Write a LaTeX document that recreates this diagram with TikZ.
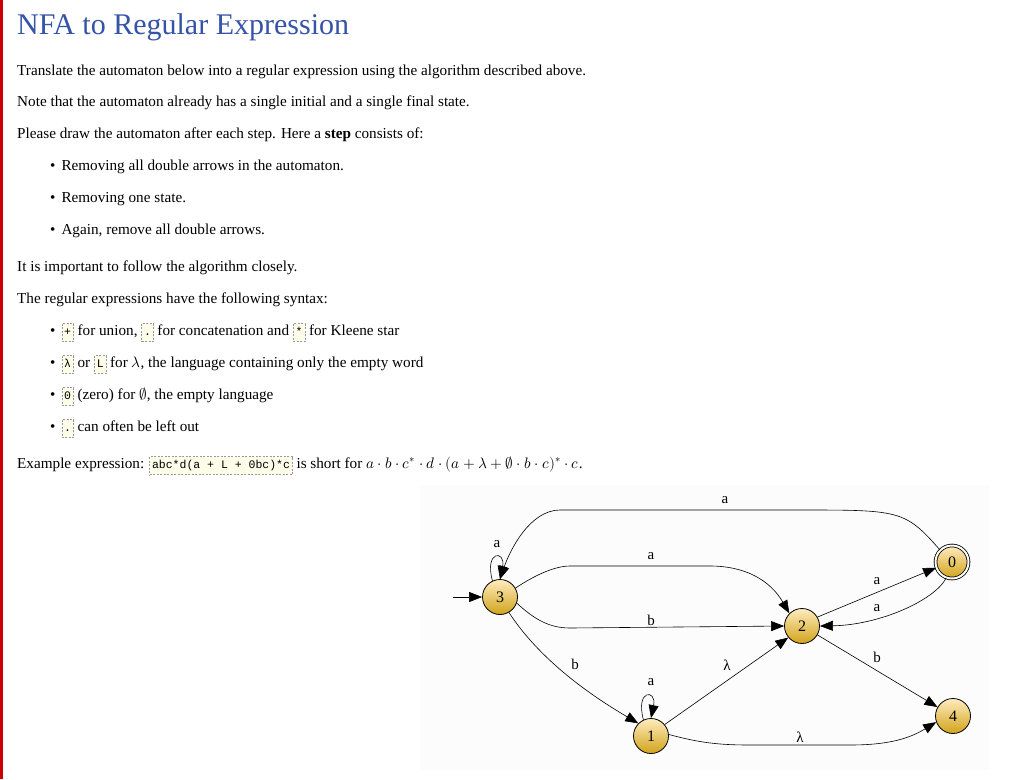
\documentclass[tikz,border=0pt]{standalone}
\usepackage{fontspec}
\setmainfont{Liberation Serif}
\setmonofont{Liberation Mono}
\usepackage{unicode-math}
\setmathfont{Latin Modern Math}
\usetikzlibrary{arrows.meta}
\definecolor{titleblue}{HTML}{3554A8}
\definecolor{codebg}{HTML}{FDFDEA}
\newcommand{\cb}[1]{\tikz[baseline=(cbx.base)]\node[draw=gray!80,dash pattern=on 2pt off 1.5pt,fill=codebg,inner xsep=2.5pt,inner ysep=3pt,font=\ttfamily\fontsize{11.5}{12}\selectfont](cbx){\strut #1};}
\begin{document}
\begin{tikzpicture}[x=1pt,y=-1pt,
  txt/.style={anchor=base west,inner sep=0,font=\fontsize{15.2}{17}\selectfont},
  st/.style={circle,draw,thick,minimum size=35pt,inner sep=0,top color=yellow!40!orange!25!white,bottom color=orange!50!yellow!80!black!90,font=\fontsize{16}{17}\selectfont},
  ed/.style={-{Triangle[length=13pt,width=10pt]},semithick},
  lb/.style={font=\fontsize{15}{16}\selectfont,inner sep=1pt}]
\useasboundingbox (0,0) rectangle (1024,779);
\fill[white] (0,0) rectangle (1024,779);
\fill[red!80!black] (0,0) rectangle (3,779);
\fill[gray!2] (420,485) rectangle (990,770);
\node[txt,font=\fontsize{30}{32}\selectfont,text=titleblue] (title) at (17,34) {NFA to Regular Expression};
\node[txt] (l1) at (17,75) {Translate the automaton below into a regular expression using the algorithm described above.};
\node[txt] (l2) at (17,106) {Note that the automaton already has a single initial and a single final state.};
\node[txt] (l3) at (17,138) {Please draw the automaton after each step. Here a \textbf{step} consists of:};
\node[txt] (b1) at (50,170) {\textbullet\hspace{6pt}Removing all double arrows in the automaton.};
\node[txt] (b2) at (50,202) {\textbullet\hspace{6pt}Removing one state.};
\node[txt] (b3) at (50,234) {\textbullet\hspace{6pt}Again, remove all double arrows.};
\node[txt] (l4) at (17,271) {It is important to follow the algorithm closely.};
\node[txt] (l5) at (17,303) {The regular expressions have the following syntax:};
\node[txt] (b4) at (50,335) {\textbullet\hspace{6pt}\cb{+} for union, \cb{.} for concatenation and \cb{*} for Kleene star};
\node[txt] (b5) at (50,367) {\textbullet\hspace{6pt}\cb{λ} or \cb{L} for $\lambda$, the language containing only the empty word};
\node[txt] (b6) at (50,399) {\textbullet\hspace{6pt}\cb{0} (zero) for $\varnothing$, the empty language};
\node[txt] (b7) at (50,431) {\textbullet\hspace{6pt}\cb{.} can often be left out};
\node[txt] (l6) at (17,468) {Example expression: \cb{abc*d(a + L + 0bc)*c} is short for $a\cdot b\cdot c^{*}\cdot d\cdot(a+\lambda+\varnothing\cdot b\cdot c)^{*}\cdot c$.};

\node[st] (s3) at (500,597) {3};
\node[st] (s2) at (802,626) {2};
\node[st,double,double distance=2pt,minimum size=33pt] (s0) at (952,562) {0};
\node[st] (s1) at (651,736) {1};
\node[st] (s4) at (953,716) {4};
\coordinate (init) at (453,597);
\draw[ed] (init) -- (s3);
\draw[ed] (s0.north west) .. controls (905,510) and (900,510) .. (800,510) -- (560,510) .. controls (530,510) and (510,550) .. (s3.north);
\node[lb] at (725,500) {a};
\draw[ed] (s3.115) .. controls (484,550) and (506,550) .. (s3.north);
\node[lb] at (497,544) {a};
\draw[ed] (s3.30) .. controls (535,575) and (555,566) .. (570,566) -- (710,566) .. controls (745,566) and (770,580) .. (s2.north west);
\node[lb] at (651,556) {a};
\draw[ed] (s3.-20) .. controls (535,620) and (550,628) .. (570,628) -- (s2.west);
\node[lb] at (651,620) {b};
\draw[ed] (s3.-60) .. controls (540,660) and (590,695) .. (s1.north west);
\node[lb] at (575,664) {b};
\draw[ed] (s1.115) .. controls (635,689) and (657,689) .. (s1.north);
\node[lb] at (651,682) {a};
\draw[ed] (s1.40) -- (s2.220);
\node[lb] at (727,665) {λ};
\draw[ed] (s1.5) .. controls (700,743) and (720,745) .. (750,745) -- (850,745) .. controls (890,745) and (910,738) .. (s4.200);
\node[lb] at (800,737) {λ};
\draw[ed] (s2.30) -- (s0.200);
\node[lb] at (877,581) {a};
\draw[ed] (s0.-110) .. controls (935,600) and (880,625) .. (s2.east);
\node[lb] at (877,608) {a};
\draw[ed] (s2.-30) -- (s4.150);
\node[lb] at (877,657) {b};
\end{tikzpicture}
\end{document}
